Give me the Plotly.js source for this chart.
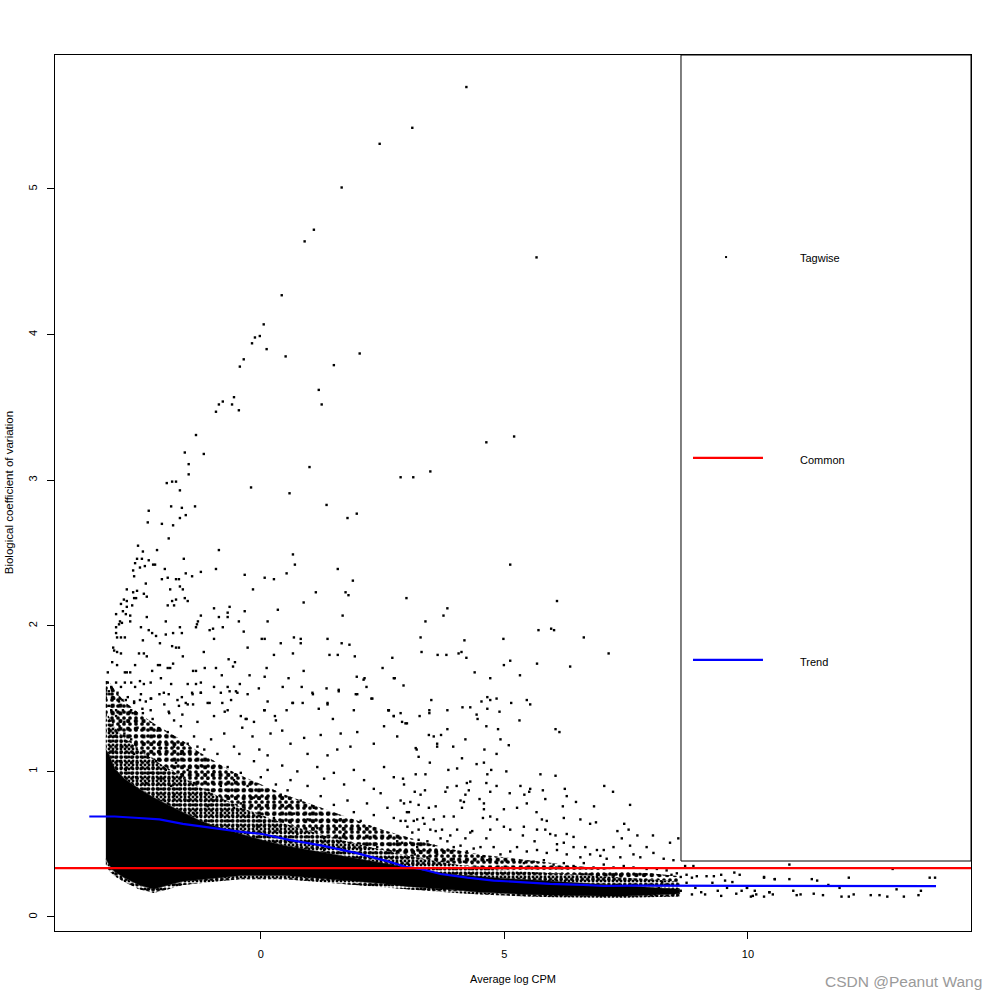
<!DOCTYPE html>
<html>
<head>
<meta charset="utf-8">
<script src="https://cdn.plot.ly/plotly-3.0.1.min.js"></script>
<style>html,body{margin:0;padding:0;background:#fff;}#chart{width:1000px;height:1000px;}</style>
</head>
<body>
<div id="chart"></div>
<script>
// ---- Data (Average log CPM vs BCV) ----
// Sparse tagwise points, upper region
var tagUpper = [[4.22,5.70],[3.11,5.42],[2.44,5.31],[1.66,5.01],[1.09,4.72],[0.90,4.64],[5.66,4.53],[0.43,4.27],[0.06,4.07],[-0.02,3.99],[-0.12,3.98],[-0.18,3.94],[0.12,3.90],[0.51,3.85],[2.03,3.87],[-0.35,3.83],[-0.43,3.78],[1.50,3.79],[1.19,3.62],[1.25,3.52],[-0.55,3.57],[-0.78,3.54],[-0.86,3.52],[-0.59,3.52],[-0.45,3.48],[-0.92,3.47],[-1.33,3.31],[-1.56,3.19],[-1.17,3.18],[-1.48,3.11],[-1.48,3.04],[-1.93,2.98],[-1.82,2.99],[-1.74,2.99],[-1.66,2.93],[-1.84,2.82],[-1.62,2.81],[-1.35,2.82],[1.00,3.09],[-0.20,2.95],[0.59,2.91],[1.35,2.83],[2.87,3.02],[3.13,3.02],[3.48,3.06],[4.63,3.26],[5.20,3.30]];
// Left / middle region, BCV 1.35 - 2.8
var tagLeftMid = [[1.78,2.74],[1.97,2.77],[-2.30,2.79],[-2.32,2.71],[-2.03,2.70],[-1.80,2.69],[-1.66,2.74],[-1.54,2.76],[-1.89,2.60],[-2.52,2.55],[-2.42,2.51],[-2.13,2.52],[-0.86,2.52],[0.66,2.49],[0.70,2.42],[-1.58,2.46],[-2.54,2.46],[-2.44,2.46],[-2.58,2.43],[-2.30,2.45],[-2.21,2.42],[-2.17,2.42],[-2.62,2.38],[-2.48,2.40],[-2.38,2.41],[-1.97,2.39],[-0.92,2.39],[-1.23,2.37],[-1.54,2.36],[-1.41,2.34],[-0.33,2.35],[0.08,2.33],[0.27,2.32],[0.53,2.36],[1.58,2.39],[1.89,2.31],[-2.03,2.32],[-1.91,2.33],[-1.74,2.32],[-1.68,2.32],[-2.60,2.34],[-2.36,2.29],[-2.75,2.25],[-2.62,2.23],[-2.54,2.24],[-1.86,2.25],[-1.66,2.27],[-1.60,2.25],[-0.16,2.25],[1.13,2.23],[1.74,2.23],[1.80,2.21],[-2.40,2.22],[-2.34,2.20],[-2.81,2.18],[-2.75,2.17],[-2.60,2.19],[-2.56,2.19],[-1.82,2.17],[-1.74,2.18],[-1.56,2.19],[-1.50,2.17],[0.88,2.16],[-1.91,2.14],[-1.78,2.14],[-2.87,2.15],[-2.75,2.13],[-2.64,2.14],[-0.96,2.12],[-0.64,2.13],[0.35,2.11],[-2.83,2.10],[-2.77,2.08],[-0.68,2.09],[-0.68,2.06],[-0.33,2.10],[-2.97,2.08],[-2.68,2.07],[-2.34,2.06],[-1.23,2.07],[-0.86,2.06],[1.68,2.07],[-2.89,2.03],[-2.85,2.02],[-2.91,2.01],[-2.68,2.03],[-1.95,2.03],[-1.29,2.03],[-1.31,2.01],[-0.45,2.03],[0.14,2.03],[-2.97,1.99],[-2.46,1.99],[-1.66,1.99],[-1.33,1.99],[-1.05,1.97],[-0.98,1.98],[-0.78,1.99],[-2.30,1.97],[-2.23,1.95],[-2.15,1.93],[-1.95,1.94],[-1.80,1.95],[-1.62,1.95],[-0.35,1.96],[-2.97,1.95],[-2.95,1.92],[-2.87,1.92],[-2.79,1.92],[-2.42,1.90],[-2.07,1.88],[-0.96,1.91],[0.02,1.91],[0.08,1.91],[0.41,1.88],[0.68,1.92],[0.82,1.91],[0.82,1.88],[1.37,1.91],[1.66,1.88],[1.82,1.87],[-1.82,1.86],[-1.74,1.85],[-1.68,1.85],[-0.27,1.85],[-3.03,1.85],[-3.01,1.83],[-2.95,1.82],[-2.87,1.81],[-2.50,1.81],[-2.40,1.81],[-2.34,1.79],[-1.17,1.82],[0.27,1.80],[0.66,1.81],[1.41,1.80],[1.58,1.80],[1.93,1.79],[-1.60,1.79],[-0.66,1.77],[-0.53,1.75],[-3.05,1.75],[-2.95,1.73],[-2.58,1.73],[-2.11,1.73],[-2.07,1.73],[-1.91,1.71],[-1.86,1.71],[-1.80,1.74],[-1.15,1.71],[-0.92,1.71],[-0.57,1.72],[0.12,1.71],[0.88,1.69],[-3.14,1.68],[-2.79,1.68],[-2.75,1.68],[-2.68,1.68],[-2.23,1.69],[-1.39,1.69],[-1.33,1.69],[-0.80,1.66],[-0.23,1.66],[0.08,1.65],[0.57,1.64],[1.97,1.65],[2.11,1.63],[-3.14,1.61],[-3.07,1.58],[-2.97,1.61],[-2.87,1.58],[-2.79,1.61],[-2.66,1.61],[-2.58,1.58],[-2.48,1.62],[-2.40,1.60],[-2.26,1.61],[-2.05,1.64],[-1.84,1.60],[-1.50,1.60],[-1.33,1.60],[-1.23,1.61],[-0.96,1.58],[-0.68,1.58],[-0.51,1.55],[-0.43,1.60],[-0.04,1.57],[0.45,1.58],[0.84,1.58],[1.35,1.57],[1.60,1.56],[2.13,1.64],[2.17,1.58],[2.73,1.64],[-3.12,1.55],[-3.03,1.51],[-2.91,1.48],[-2.77,1.49],[-2.60,1.48],[-2.48,1.49],[-2.26,1.50],[-1.99,1.54],[-1.89,1.53],[-1.62,1.51],[-1.41,1.54],[-1.23,1.54],[-0.82,1.54],[-0.64,1.55],[-0.27,1.53],[0.14,1.48],[0.66,1.47],[1.07,1.53],[1.37,1.47],[1.95,1.53],[2.27,1.50],[2.62,1.42],[2.73,1.38],[-3.12,1.45],[-2.97,1.42],[-2.83,1.42],[-2.66,1.42],[-2.42,1.40],[-2.26,1.42],[-1.89,1.41],[-1.68,1.45],[-1.54,1.47],[-1.39,1.46],[-1.05,1.47],[-0.74,1.41],[-0.29,1.36],[0.08,1.42],[0.29,1.38],[0.53,1.42],[0.86,1.47],[1.19,1.43],[1.48,1.36]];
// Centre region, BCV 1.35 - 2.45
var tagCentreMid = [[5.12,2.42],[2.99,2.19],[6.08,2.17],[3.83,2.12],[3.75,2.07],[3.38,2.03],[3.28,1.92],[4.18,1.90],[4.98,1.91],[5.70,1.97],[5.96,1.98],[6.02,1.97],[6.63,1.92],[3.30,1.82],[3.63,1.80],[3.81,1.80],[4.06,1.81],[4.12,1.82],[4.22,1.78],[2.70,1.78],[2.50,1.71],[7.14,1.81],[5.12,1.76],[4.99,1.73],[5.67,1.74],[6.35,1.72],[4.39,1.68],[5.32,1.66],[4.71,1.64],[2.75,1.64],[2.93,1.59],[3.50,1.49],[4.65,1.51],[4.71,1.49],[4.84,1.50],[4.53,1.48],[5.14,1.47],[5.46,1.49],[5.53,1.46],[4.14,1.44],[4.30,1.44],[4.65,1.43],[3.83,1.42],[3.46,1.42],[3.46,1.40],[4.90,1.41],[2.62,1.42],[2.87,1.40],[2.73,1.38],[3.26,1.38],[4.43,1.39],[4.45,1.36]];
// Left band above the dense core, BCV 0.45 - 1.55
var tagLeftBand = [[-3.11,1.53],[-3.01,1.50],[-2.94,1.54],[-2.84,1.49],[-2.73,1.51],[-2.60,1.47],[-2.46,1.53],[-2.36,1.48],[-2.25,1.50],[-2.08,1.53],[-1.98,1.46],[-1.71,1.49],[-1.50,1.46],[-1.40,1.53],[-1.23,1.54],[-1.09,1.47],[-0.79,1.47],[-0.61,1.49],[-0.48,1.54],[-0.31,1.36],[-0.14,1.34],[0.07,1.42],[0.31,1.35],[0.65,1.47],[1.06,1.54],[1.37,1.46],[1.60,1.55],[1.91,1.42],[1.98,1.53],[2.29,1.50],[2.63,1.42],[2.90,1.34],[3.00,1.33],[-3.07,1.42],[-2.97,1.38],[-2.80,1.34],[-2.63,1.40],[-2.43,1.43],[-2.22,1.36],[-1.88,1.40],[-1.78,1.35],[-1.61,1.39],[-1.30,1.34],[-0.96,1.38],[-0.68,1.42],[-0.41,1.38],
[-3.11,1.28],[-3.01,1.24],[-2.90,1.31],[-2.80,1.26],[-2.66,1.22],[-2.53,1.30],[-2.39,1.19],[-2.25,1.24],[-2.12,1.28],[-1.91,1.27],[-1.78,1.17],[-1.64,1.31],[-1.50,1.19],[-1.37,1.24],[-1.16,1.15],[-1.02,1.22],[-0.89,1.12],[-0.75,1.26],[-0.55,1.17],[-0.38,1.30],[-0.17,1.24],[-0.03,1.15],[0.20,1.26],[0.44,1.28],[0.61,1.19],[0.89,1.23],[1.23,1.25],[1.37,1.11],[1.64,1.26],[1.84,1.17],[1.98,1.27],[2.32,1.19],[2.53,1.31],[2.80,1.24],[3.18,1.16],[-3.04,1.14],[-2.84,1.17],[-2.60,1.12],[-2.32,1.11],[-2.05,1.16],[-1.64,1.12],[-1.30,1.17],[-0.44,1.12],[0.14,1.11],[0.96,1.12],[1.57,1.15],
[-3.11,1.08],[-3.04,1.03],[-2.97,0.99],[-2.90,1.07],[-2.84,0.94],[-2.77,1.01],[-2.66,1.06],[-2.56,0.96],[-2.46,1.02],[-2.36,0.92],[-2.25,0.99],[-2.15,1.07],[-2.05,0.95],[-1.95,1.01],[-1.84,0.90],[-1.74,1.06],[-1.64,0.96],[-1.50,1.01],[-1.37,0.92],[-1.23,1.04],[-1.09,0.95],[-0.96,1.00],[-0.82,0.90],[-0.68,1.03],[-0.55,0.94],[-0.41,0.99],[-0.27,0.90],[-0.14,1.07],[0.00,0.96],[0.14,1.01],[0.31,0.91],[0.44,1.04],[0.61,0.94],[0.75,1.00],[0.96,0.90],[1.16,1.03],[1.30,0.95],[1.50,0.99],[1.71,0.91],[1.91,1.01],[2.12,0.94],[2.32,0.88],[2.53,1.03],[2.73,0.96],[2.94,0.91],[3.18,0.98],[-3.07,0.90],[-2.70,0.88],[-2.12,0.88],[-1.57,0.88],[-0.48,0.87],[0.55,0.87],
[-2.05,0.85],[-1.91,0.78],[-1.78,0.83],[-1.64,0.74],[-1.50,0.80],[-1.37,0.71],[-1.23,0.84],[-1.09,0.76],[-0.96,0.80],[-0.82,0.70],[-0.68,0.83],[-0.55,0.75],[-0.41,0.78],[-0.27,0.69],[-0.14,0.82],[0.00,0.74],[0.14,0.77],[0.27,0.68],[0.41,0.84],[0.55,0.76],[0.68,0.71],[0.82,0.80],[0.96,0.67],[1.09,0.75],[1.23,0.83],[1.37,0.71],[1.50,0.77],[1.64,0.67],[1.78,0.80],[1.91,0.72],[2.05,0.66],[2.18,0.78],[2.32,0.70],[2.46,0.85],[2.60,0.75],[2.73,0.68],[2.87,0.80],[3.00,0.72],[3.14,0.66],[3.24,0.77],[-1.43,0.66],[-0.61,0.66],[0.07,0.65],[0.61,0.65],
[-0.61,0.60],[-0.48,0.63],[-0.27,0.57],[-0.07,0.62],[0.14,0.55],[0.34,0.60],[0.55,0.53],[0.75,0.57],[0.96,0.51],[1.16,0.61],[1.30,0.54],[1.50,0.48],[1.71,0.57],[1.84,0.51],[2.05,0.46],[2.25,0.55],[2.39,0.48],[2.60,0.44],[2.80,0.52],[3.00,0.45],[3.21,0.48],[1.30,0.46],[0.75,0.48]];
// Right band above the dense core, BCV 0.28 - 1.35
var tagRightBand = [[2.97,1.33],[3.45,1.25],[3.55,1.24],[3.70,1.25],[3.83,1.29],[4.20,1.22],[4.63,1.31],[4.87,1.29],[4.92,1.22],[5.31,1.35],[6.05,1.29],[6.13,1.27],[3.62,1.19],[3.62,1.17],[3.95,1.17],[3.20,1.15],[5.09,1.18],[4.59,1.15],[3.24,1.10],[4.13,1.09],[4.84,1.12],[4.43,1.05],[4.58,1.06],[3.47,1.06],[3.85,1.01],[4.03,1.02],[4.73,1.01],[4.65,0.98],[4.63,0.92],[5.04,1.00],[5.74,0.98],[6.05,0.97],[2.92,0.95],[3.38,0.98],[3.83,0.89],[4.02,0.90],[4.23,0.92],[4.30,0.93],[3.79,0.86],[4.27,0.87],[3.37,0.87],[3.16,0.86],[3.28,0.84],[4.71,0.86],[4.84,0.90],[5.11,0.85],[5.33,0.90],[5.41,0.84],[5.51,0.86],[5.53,0.88],[5.79,0.87],[6.24,0.88],[5.84,0.81],[6.47,0.79],[6.28,0.83],[7.05,0.90],[7.23,0.86],[7.58,0.77],[6.84,0.76],[4.49,0.81],[4.58,0.78],[4.20,0.84],[4.10,0.80],[3.07,0.79],[4.17,0.79],[2.94,0.78],[3.45,0.75],[3.59,0.76],[3.04,0.72],[5.26,0.75],[5.46,0.78],[5.66,0.72],[6.20,0.76],[4.99,0.74],[4.58,0.74],[4.56,0.68],[4.71,0.69],[4.85,0.67],[4.13,0.75],[3.96,0.69],[3.76,0.69],[3.33,0.68],[3.21,0.67],[2.97,0.66],[3.55,0.67],[5.77,0.67],[5.87,0.66],[6.22,0.68],[6.56,0.67],[6.76,0.64],[6.88,0.65],[7.32,0.59],[7.46,0.64],[7.55,0.60],[7.73,0.56],[8.05,0.56],[8.40,0.51],[8.57,0.54],[7.92,0.48],[7.58,0.49],[7.41,0.54],[7.24,0.48],[7.04,0.46],[6.90,0.46],[6.66,0.48],[6.42,0.48],[6.22,0.51],[6.08,0.50],[6.42,0.55],[6.28,0.57],[5.94,0.57],[5.84,0.60],[6.05,0.56],[5.62,0.52],[5.67,0.60],[5.40,0.62],[5.38,0.56],[5.12,0.60],[4.99,0.62],[4.71,0.60],[4.63,0.54],[4.51,0.48],[4.30,0.58],[4.34,0.59],[4.20,0.54],[4.03,0.60],[3.89,0.56],[3.72,0.60],[3.59,0.59],[3.48,0.60],[3.36,0.64],[3.24,0.60],[3.11,0.58],[3.01,0.62],[2.87,0.66],[2.90,0.51],[3.07,0.51],[3.24,0.53],[3.42,0.52],[3.55,0.49],[3.69,0.54],[3.83,0.52],[3.96,0.48],[4.10,0.49],[4.23,0.45],[4.37,0.47],[4.54,0.41],[4.78,0.48],[4.92,0.43],[5.12,0.45],[5.26,0.48],[5.46,0.45],[5.67,0.46],[5.87,0.44],[6.08,0.46],[6.28,0.43],[6.56,0.41],[6.76,0.43],[6.97,0.42],[7.10,0.40],[7.38,0.41],[7.65,0.43],[7.79,0.41],[8.06,0.44],[8.27,0.40],[8.47,0.39],[8.71,0.35],[8.88,0.35],[2.97,0.45],[3.16,0.43],[3.28,0.44],[3.42,0.41],[3.62,0.43],[3.76,0.39],[3.96,0.40],[4.17,0.38],[4.34,0.37],[4.65,0.39],[4.85,0.37],[5.05,0.38],[5.19,0.39],[5.40,0.37],[5.60,0.38],[5.81,0.39],[6.01,0.36],[6.22,0.37],[6.42,0.35],[6.63,0.37],[6.83,0.34],[7.04,0.36],[7.24,0.34],[7.45,0.35],[7.65,0.34],[7.92,0.33],[8.13,0.33],[8.33,0.32],[8.54,0.30],[8.74,0.29],[8.95,0.28]];
// High-abundance tail, BCV 0.14 - 0.36
var tagTail = [[8.43,0.29],[8.62,0.275],[8.74,0.235],[8.85,0.27],[8.92,0.20],[9.04,0.17],[9.15,0.28],[9.27,0.235],[9.38,0.18],[9.45,0.145],[9.57,0.20],[9.68,0.24],[9.76,0.16],[9.87,0.18],[9.98,0.20],[10.10,0.145],[10.17,0.155],[10.33,0.14],[10.44,0.17],[10.51,0.155],[10.55,0.26],[10.33,0.275],[10.14,0.18],[9.45,0.29],[9.72,0.305],[9.83,0.29],[9.53,0.25],[9.30,0.28],[9.12,0.155],[8.85,0.155],[8.62,0.18],[8.47,0.155],[8.32,0.18],[8.17,0.20],[8.09,0.155],[8.24,0.24],[13.84,0.27],[13.73,0.27],[13.2,0.14],[13.5,0.15],[12.86,0.14],[12.52,0.15],[12.7,0.15],[13.05,0.19],[13.55,0.18],[12.97,0.33],[12.07,0.27],[11.65,0.22],[12.17,0.155],[12.07,0.14],[11.92,0.14],[11.88,0.20],[11.54,0.15],[11.35,0.16],[11.42,0.25],[11.31,0.26],[10.85,0.26],[11.08,0.155],[10.93,0.18],[11.0,0.15],[10.85,0.36],[10.55,0.26],[10.44,0.17],[10.06,0.14],[10.33,0.27],[9.98,0.20]];
// Density zones of the point cloud, outlines
var zoneX      = [-3.18,-3.12,-3.0,-2.8,-2.5,-2.2,-1.9,-1.6,-1.3,-1.0,-0.7,-0.4,0.0,0.5,1.0,1.5,2.0,2.5,3.0,3.5,4.0,4.5,5.0,5.5,6.0,6.5,7.0,7.5,8.0,8.6];
var outerUpper = [1.62,1.62,1.56,1.48,1.40,1.33,1.27,1.21,1.14,1.08,1.02,0.97,0.91,0.84,0.78,0.72,0.66,0.60,0.55,0.50,0.46,0.43,0.41,0.39,0.37,0.35,0.33,0.31,0.30,0.28];
var innerUpper = [1.40,1.38,1.30,1.23,1.15,1.08,1.02,0.96,0.90,0.85,0.80,0.75,0.70,0.64,0.59,0.54,0.50,0.46,0.42,0.39,0.36,0.34,0.32,0.31,0.30,0.29,0.28,0.27,0.26,0.24];
var coreUpper  = [1.15,1.12,1.02,0.95,0.88,0.82,0.77,0.72,0.67,0.63,0.60,0.57,0.53,0.49,0.46,0.43,0.40,0.37,0.34,0.31,0.29,0.275,0.265,0.255,0.245,0.235,0.225,0.215,0.205,0.19];
var coreLower  = [0.40,0.36,0.31,0.27,0.22,0.19,0.22,0.245,0.255,0.265,0.275,0.285,0.285,0.285,0.275,0.26,0.245,0.23,0.21,0.195,0.185,0.17,0.16,0.155,0.15,0.145,0.145,0.145,0.15,0.16];
var innerLower = [0.36,0.32,0.28,0.24,0.19,0.165,0.19,0.22,0.23,0.24,0.25,0.26,0.26,0.26,0.25,0.235,0.22,0.205,0.19,0.175,0.165,0.155,0.145,0.14,0.135,0.132,0.132,0.132,0.135,0.14];
// Common dispersion (BCV) and trend
var commonBCV = 0.336;
var trendX = [-3.52,-3.0,-2.5,-2.08,-1.6,-1.2,-0.79,-0.4,0.03,0.58,1.26,1.95,2.63,2.97,3.28,3.69,4.24,4.78,5.33,5.94,6.62,7.04,7.65,9.0,11.0,13.86];
var trendY = [0.69,0.69,0.68,0.67,0.64,0.62,0.60,0.585,0.57,0.53,0.49,0.44,0.38,0.345,0.33,0.295,0.27,0.25,0.24,0.227,0.22,0.213,0.215,0.215,0.213,0.212];
var xTicks = [0,5,10];
var yTicks = [0,1,2,3,4,5];
var legendLabels = ["Tagwise","Common","Trend"];

var allTag = tagUpper.concat(tagLeftMid, tagCentreMid, tagLeftBand, tagRightBand, tagTail);
var tagX = allTag.map(function(p){return p[0];});
var tagY = allTag.map(function(p){return p[1];});

function band(upper, lower){
  return {x: zoneX.concat(zoneX.slice().reverse()), y: upper.concat(lower.slice().reverse())};
}
var outerBand = band(outerUpper, innerUpper);
var innerBand = band(innerUpper, coreUpper);
var lowerBand = band(coreLower, innerLower);
var coreBand  = band(coreUpper, coreLower);

var FONT = "Liberation Sans, Arial, sans-serif";

// stippled zones: two overlaid dot patterns of different pitch give an irregular speckle
function zone(b, size, sol){
  return {type:"scatter", mode:"lines", x:b.x, y:b.y, fill:"toself",
    fillcolor:"rgba(0,0,0,0)", fillpattern:{shape:".", size:size, solidity:sol, fgcolor:"#000", bgcolor:"rgba(0,0,0,0)"},
    line:{width:0, color:"rgba(0,0,0,0)"}, hoverinfo:"skip", showlegend:false};
}

var traces = [
  zone(outerBand, 6, 0.30), zone(outerBand, 7.7, 0.26),
  zone(innerBand, 4, 0.42), zone(innerBand, 5.3, 0.38),
  zone(lowerBand, 4, 0.42), zone(lowerBand, 5.3, 0.38),
  {type:"scatter", mode:"lines", x:coreBand.x, y:coreBand.y, fill:"toself", fillcolor:"#000000",
   line:{width:0.5,color:"#000000"}, hoverinfo:"skip", showlegend:false},
  {type:"scatter", mode:"markers", x:tagX, y:tagY, name:"Tagwise",
   marker:{symbol:"square", size:2.4, color:"#000000", line:{width:0}}, showlegend:false},
  {type:"scatter", mode:"lines", x:trendX, y:trendY, name:"Trend",
   line:{color:"#0000FF", width:2.2}, showlegend:false}
];

var axisBase = {showgrid:false, zeroline:false, showline:true, mirror:true, linecolor:"#000", linewidth:1,
  ticks:"outside", ticklen:7, tickwidth:1, tickcolor:"#000", tickfont:{family:FONT, size:11, color:"#000"}};

var layout = {
  width:1000, height:1000,
  margin:{l:55, r:29, t:55, b:69, pad:0},
  paper_bgcolor:"#fff", plot_bgcolor:"#fff",
  showlegend:false,
  xaxis:Object.assign({}, axisBase, {range:[-4.224,14.578], tickmode:"array", tickvals:xTicks, ticktext:xTicks.map(String), ticklabelstandoff:6}),
  yaxis:Object.assign({}, axisBase, {range:[-0.0962,5.920], tickmode:"array", tickvals:yTicks, ticktext:yTicks.map(String), tickangle:-90, ticklabelstandoff:6}),
  shapes:[
    {type:"line", xref:"paper", yref:"y", x0:0, x1:1, y0:commonBCV, y1:commonBCV, line:{color:"#FF0000", width:2.2}, layer:"above"},
    {type:"rect", xref:"paper", yref:"paper", x0:0.6834, x1:1, y0:0.0799, y1:1, fillcolor:"#fff", line:{color:"#000", width:1}, layer:"above"},
    {type:"rect", xref:"paper", yref:"paper", x0:0.7315, x1:0.7337, y0:0.7682, y1:0.7705, fillcolor:"#000", line:{width:0}, layer:"above"},
    {type:"line", xref:"paper", yref:"paper", x0:0.6965, x1:0.7729, y0:0.540, y1:0.540, line:{color:"#FF0000", width:2.2}, layer:"above"},
    {type:"line", xref:"paper", yref:"paper", x0:0.6965, x1:0.7729, y0:0.3094, y1:0.3094, line:{color:"#0000FF", width:2.2}, layer:"above"}
  ],
  annotations:[
    {text:legendLabels[0], xref:"paper", yref:"paper", x:0.8111, y:0.7683, xanchor:"left", yanchor:"middle", showarrow:false, font:{family:FONT, size:11, color:"#000"}},
    {text:legendLabels[1], xref:"paper", yref:"paper", x:0.8111, y:0.5377, xanchor:"left", yanchor:"middle", showarrow:false, font:{family:FONT, size:11, color:"#000"}},
    {text:legendLabels[2], xref:"paper", yref:"paper", x:0.8111, y:0.3071, xanchor:"left", yanchor:"middle", showarrow:false, font:{family:FONT, size:11, color:"#000"}},
    {text:"Average log CPM", xref:"paper", yref:"paper", x:0.5, y:-0.0548, xanchor:"center", yanchor:"middle", showarrow:false, font:{family:FONT, size:11, color:"#000"}},
    {text:"Biological coefficient of variation", xref:"paper", yref:"paper", x:-0.0499, y:0.5, xanchor:"center", yanchor:"middle", textangle:-90, showarrow:false, font:{family:FONT, size:11.5, color:"#000"}},
    {text:"CSDN @Peanut Wang", xref:"paper", yref:"paper", x:1.0138, y:-0.0582, xanchor:"right", yanchor:"middle", showarrow:false, font:{family:FONT, size:15.5, color:"#9a9a9a"}}
  ]
};

Plotly.newPlot("chart", traces, layout, {displayModeBar:false, staticPlot:true});
</script>
</body>
</html>
